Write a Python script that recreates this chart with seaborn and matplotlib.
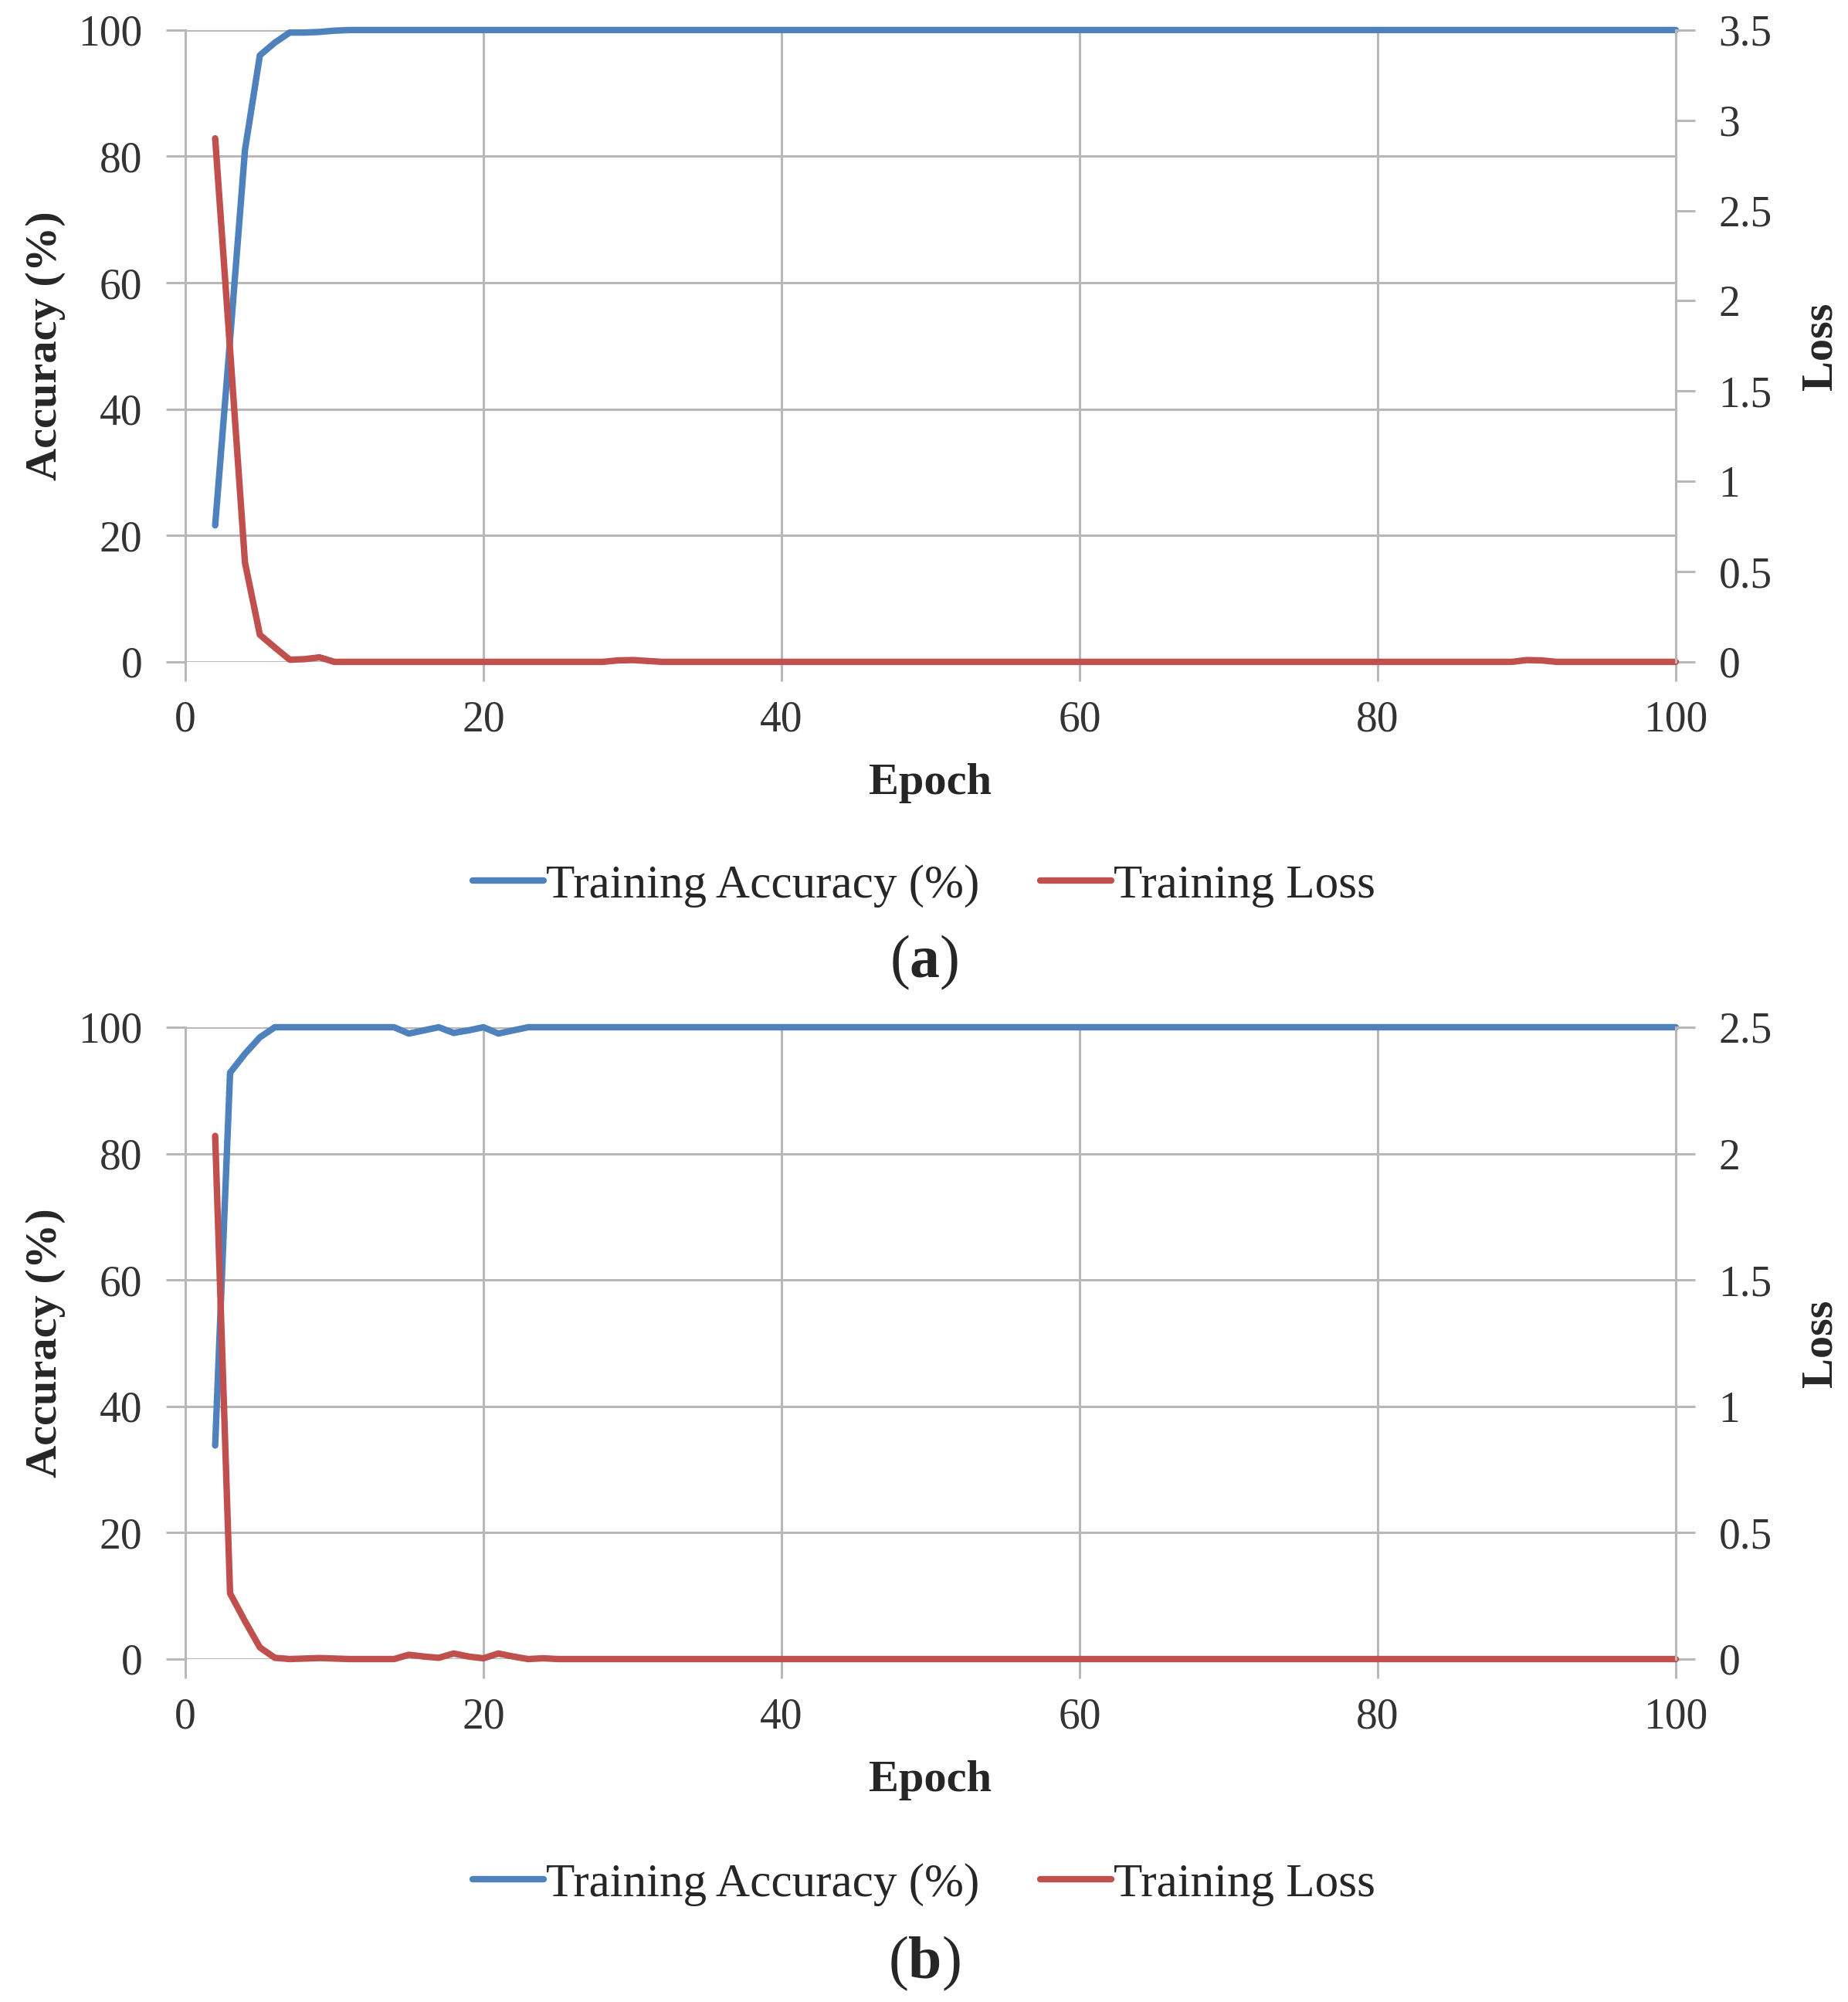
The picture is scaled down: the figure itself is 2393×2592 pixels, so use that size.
import numpy as np
import pandas as pd
import matplotlib
matplotlib.use('Agg')
import matplotlib.pyplot as plt
import seaborn as sns

# values (vertices of the lines)
epochs_a = [2, 3, 4, 5, 6, 7, 8, 9, 10, 11, 12, 28, 29, 30, 31, 32, 89, 90, 91, 92, 100]
acc_a = [21.6, 51.0, 81.0, 96.0, 98.0, 99.6, 99.6, 99.7, 99.9, 100, 100,
         100, 100, 100, 100, 100, 100, 100, 100, 100, 100]
loss_a = [2.90, 1.73, 0.55, 0.15, 0.08, 0.012, 0.015, 0.025, 0.0, 0.0, 0.0,
          0.0, 0.008, 0.01, 0.005, 0.0, 0.0, 0.01, 0.008, 0.0, 0.0]

epochs_b = [2, 3, 4, 5, 6, 7, 8, 9, 10, 11, 14, 15, 16, 17, 18, 19, 20, 21, 22, 23, 24, 25, 26, 100]
acc_b = [33.8, 92.8, 95.8, 98.4, 100, 100, 100, 100, 100, 100, 100, 99.0, 99.5, 100,
         99.1, 99.5, 100, 99.0, 99.5, 100, 100, 100, 100, 100]
loss_b = [2.07, 0.26, 0.15, 0.046, 0.005, 0.0, 0.002, 0.004, 0.002, 0.0, 0.0, 0.017, 0.01,
          0.005, 0.022, 0.01, 0.003, 0.022, 0.01, 0.0, 0.003, 0.0, 0.0, 0.0]

x_ticks = [0, 20, 40, 60, 80, 100]
acc_ticks = [0, 20, 40, 60, 80, 100]
loss_ticks_a = [0, 0.5, 1, 1.5, 2, 2.5, 3, 3.5]
loss_labels_a = ['0', '0.5', '1', '1.5', '2', '2.5', '3', '3.5']
loss_ticks_b = [0, 0.5, 1, 1.5, 2, 2.5]
loss_labels_b = ['0', '0.5', '1', '1.5', '2', '2.5']

sns.set_theme(style='white')
plt.rcParams['font.family'] = ['Liberation Serif', 'DejaVu Serif']
plt.rcParams['mathtext.fontset'] = 'custom'
plt.rcParams['mathtext.rm'] = 'Liberation Serif'
plt.rcParams['mathtext.bf'] = 'Liberation Serif:bold'

BLUE = '#4F81BD'
RED = '#C0504D'
GRID = '#B8B8B8'
TICK = '#333333'


def panel(ax, epochs, acc, loss, lticks, llabels):
    df = pd.DataFrame({'Epoch': epochs, 'acc': acc, 'loss': loss})
    ax2 = ax.twinx()
    sns.lineplot(data=df, x='Epoch', y='acc', ax=ax, color=BLUE, linewidth=6,
                 label='Training Accuracy (%)', legend=False, clip_on=False)
    sns.lineplot(data=df, x='Epoch', y='loss', ax=ax2, color=RED, linewidth=6,
                 label='Training Loss', legend=False, clip_on=False)

    ax.set_xlim(0, 100)
    ax.set_ylim(0, 100)
    ax2.set_ylim(0, lticks[-1])
    ax.set_xticks(x_ticks)
    ax.set_yticks(acc_ticks)
    ax2.set_yticks(lticks)
    ax2.set_yticklabels(llabels)

    ax.grid(True, color=GRID, lw=2.2)
    ax2.grid(False)
    for a in (ax, ax2):
        for s in ('top', 'bottom'):
            a.spines[s].set_visible(False)
        a.spines['left'].set_color(GRID)
        a.spines['right'].set_color(GRID)
        a.spines['left'].set_linewidth(2.2)
        a.spines['right'].set_linewidth(2.2)
    ax.set_axisbelow(True)

    ax.tick_params(axis='x', bottom=True, direction='out', length=18, width=2.2,
                   color=GRID, pad=18, labelsize=40, labelcolor=TICK)
    ax.tick_params(axis='y', left=True, direction='out', length=18, width=2.2,
                   color=GRID, pad=22, labelsize=40, labelcolor=TICK)
    ax2.tick_params(axis='y', right=True, direction='out', length=18, width=2.2,
                    color=GRID, pad=22, labelsize=40, labelcolor=TICK)

    ax.set_xlabel('Epoch', fontsize=42, fontweight='bold', va='center')
    ax.xaxis.set_label_coords(0.5, -0.192)
    ax.set_ylabel('Accuracy (%)', fontsize=42, fontweight='bold', va='center')
    ax.yaxis.set_label_coords(-0.094, 0.5)
    ax2.set_ylabel('Loss', fontsize=42, fontweight='bold', va='center')
    ax2.yaxis.set_label_coords(1.097, 0.5)
    return ax2


fig = plt.figure(figsize=(23.93, 25.92), dpi=100)
ax_a = fig.add_axes([0.1003, 0.6694, 0.8065, 0.3156])
ax_b = fig.add_axes([0.1003, 0.1713, 0.8065, 0.3156])

for ax, ep, acc, loss, lt, ll, ly, tag, ty in [
        (ax_a, epochs_a, acc_a, loss_a, loss_ticks_a, loss_labels_a, 0.5575, 'a', 0.519),
        (ax_b, epochs_b, acc_b, loss_b, loss_ticks_b, loss_labels_b, 0.0587, 'b', 0.019)]:
    ax2 = panel(ax, ep, acc, loss, lt, ll)
    handles = ax.get_lines()[:1] + ax2.get_lines()[:1]
    fig.legend(handles, ['Training Accuracy (%)', 'Training Loss'],
               loc='center', bbox_to_anchor=(0.5, ly), ncol=2, frameon=False,
               fontsize=44, handlelength=1.5, handletextpad=0.05, columnspacing=1.3)
    fig.text(0.5, ty, '($\\mathbf{' + tag + '}$)', ha='center', va='center', fontsize=56)

fig.savefig('out.png', dpi=100)
